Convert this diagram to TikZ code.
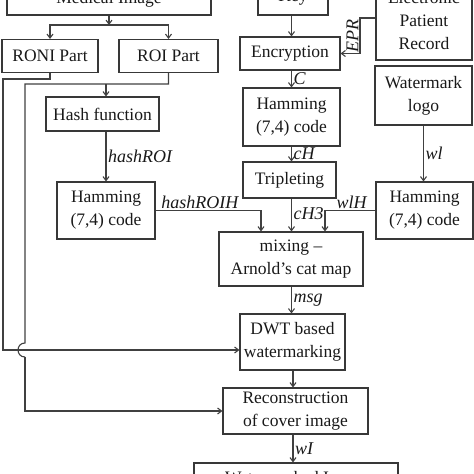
\documentclass[tikz,border=0pt]{standalone}
\usepackage{fontspec}
\setmainfont{Liberation Serif}
\usetikzlibrary{arrows.meta}
\begin{document}
\begin{tikzpicture}[x=1pt,y=-1pt,
  box/.style={draw=black!78, line width=1.1pt, inner sep=0pt, align=center,
    font=\fontsize{17.5}{23}\selectfont, text=black!90},
  lab/.style={font=\fontsize{18}{22}\selectfont\itshape, text=black!90, inner sep=1.5pt},
  ln/.style={draw=black!75, line width=1.1pt},
  arr/.style={ln, -{Straight Barb[length=4pt,width=6pt]}}]
\useasboundingbox (0,0) rectangle (474,474);
\clip (0,0) rectangle (474,474);
% boxes
\node[box, minimum width=204pt, minimum height=32pt] (med) at (109,-1) {Medical Image};
\node[box, minimum width=96pt, minimum height=33pt] (roni) at (50,56) {RONI Part};
\node[box, minimum width=99pt, minimum height=33pt] (roi) at (168.5,56) {ROI Part};
\node[box, minimum width=113pt, minimum height=34pt] (hash) at (102.5,114) {Hash function};
\node[box, minimum width=98pt, minimum height=57pt] (ham1) at (106,210.5) {Hamming\\(7,4) code};
\node[box, minimum width=70pt, minimum height=34pt] (key) at (293,-2) {Key};
\node[box, minimum width=100pt, minimum height=33pt] (enc) at (290,53.5) {Encryption};
\node[box, minimum width=96pt, minimum height=78pt] (epr) at (424,21) {Electronic\\Patient\\Record};
\node[box, minimum width=97pt, minimum height=58pt] (ham2) at (291.5,117) {Hamming\\(7,4) code};
\node[box, minimum width=93pt, minimum height=36pt] (trip) at (289.5,180) {Tripleting};
\node[box, minimum width=97pt, minimum height=59pt] (wm) at (423.5,95.5) {Watermark\\logo};
\node[box, minimum width=97pt, minimum height=57pt] (ham3) at (424.5,210.5) {Hamming\\(7,4) code};
\node[box, minimum width=144pt, minimum height=54pt] (mix) at (291,259) {mixing --\\Arnold's cat map};
\node[box, minimum width=105pt, minimum height=56pt] (dwt) at (292.5,342) {DWT based\\watermarking};
\node[box, minimum width=145pt, minimum height=46pt] (rec) at (295.5,411) {Reconstruction\\of cover image};
\node[box, minimum width=204pt, minimum height=33pt] (wmi) at (296,479.5) {Watermarked Image};
% helper coordinates
\coordinate (split) at (109,25);
\coordinate (l1) at (3,79);
\coordinate (l2) at (3,350);
\coordinate (r1) at (25,84);
\coordinate (jt) at (25,343);
\coordinate (jb) at (25,357);
\coordinate (m1) at (261,0);
\coordinate (m3) at (325,0);
\coordinate (cc) at (291.5,0);
\coordinate (cd) at (293,0);
\coordinate (ek) at (360,18);
% connectors
\draw[arr] (med.south) -- (split);
\draw[arr] (split) -| (roni.north);
\draw[arr] (split) -| (roi.north);
\draw[arr] (roni.south) |- (l1) -- (l2) -- (l2 -| dwt.west);
\draw[ln] (roi.south) |- (r1) -- (jt) .. controls (15.7,343) and (15.7,357) .. (jb);
\draw[arr] (jb) |- (rec.west);
\draw[arr] (ham1.north |- r1) -- (ham1.north |- hash.north);
\draw[arr] (ham1.north |- hash.south) -- (ham1.north) node[lab, right, midway] {hashROI};
\draw[arr] (ham1.east) -| (m1 |- mix.north) node[lab, above, pos=0.21] {hashROIH};
\draw[arr] (ham3.west) -| (m3 |- mix.north) node[lab, above, pos=0.235] {wlH};
\draw[arr] (key.south -| cc) -- (enc.north -| cc);
\draw[arr] (enc.south -| cc) -- (ham2.north -| cc) node[lab, right, midway] {C};
\draw[arr] (ham2.south -| cc) -- (trip.north -| cc) node[lab, right, midway] {cH};
\draw[arr] (trip.south -| cc) -- (mix.north -| cc) node[lab, right, pos=0.45] {cH3};
\draw[arr] (mix.south -| cc) -- (dwt.north -| cc) node[lab, right, midway] {msg};
\draw[arr] (dwt.south -| cd) -- (rec.north -| cd);
\draw[arr] (rec.south -| cd) -- (wmi.north -| cd) node[lab, right, midway] {wI};
\draw[arr] (wm.south) -- (wm.south |- ham3.north) node[lab, right, midway] {wl};
\draw[arr] (epr.west |- ek) -- (ek) |- (enc.east);
\path (ek) -- (ek |- enc.east) node[lab, midway, rotate=90, anchor=south] {EPR};
\end{tikzpicture}
\end{document}
